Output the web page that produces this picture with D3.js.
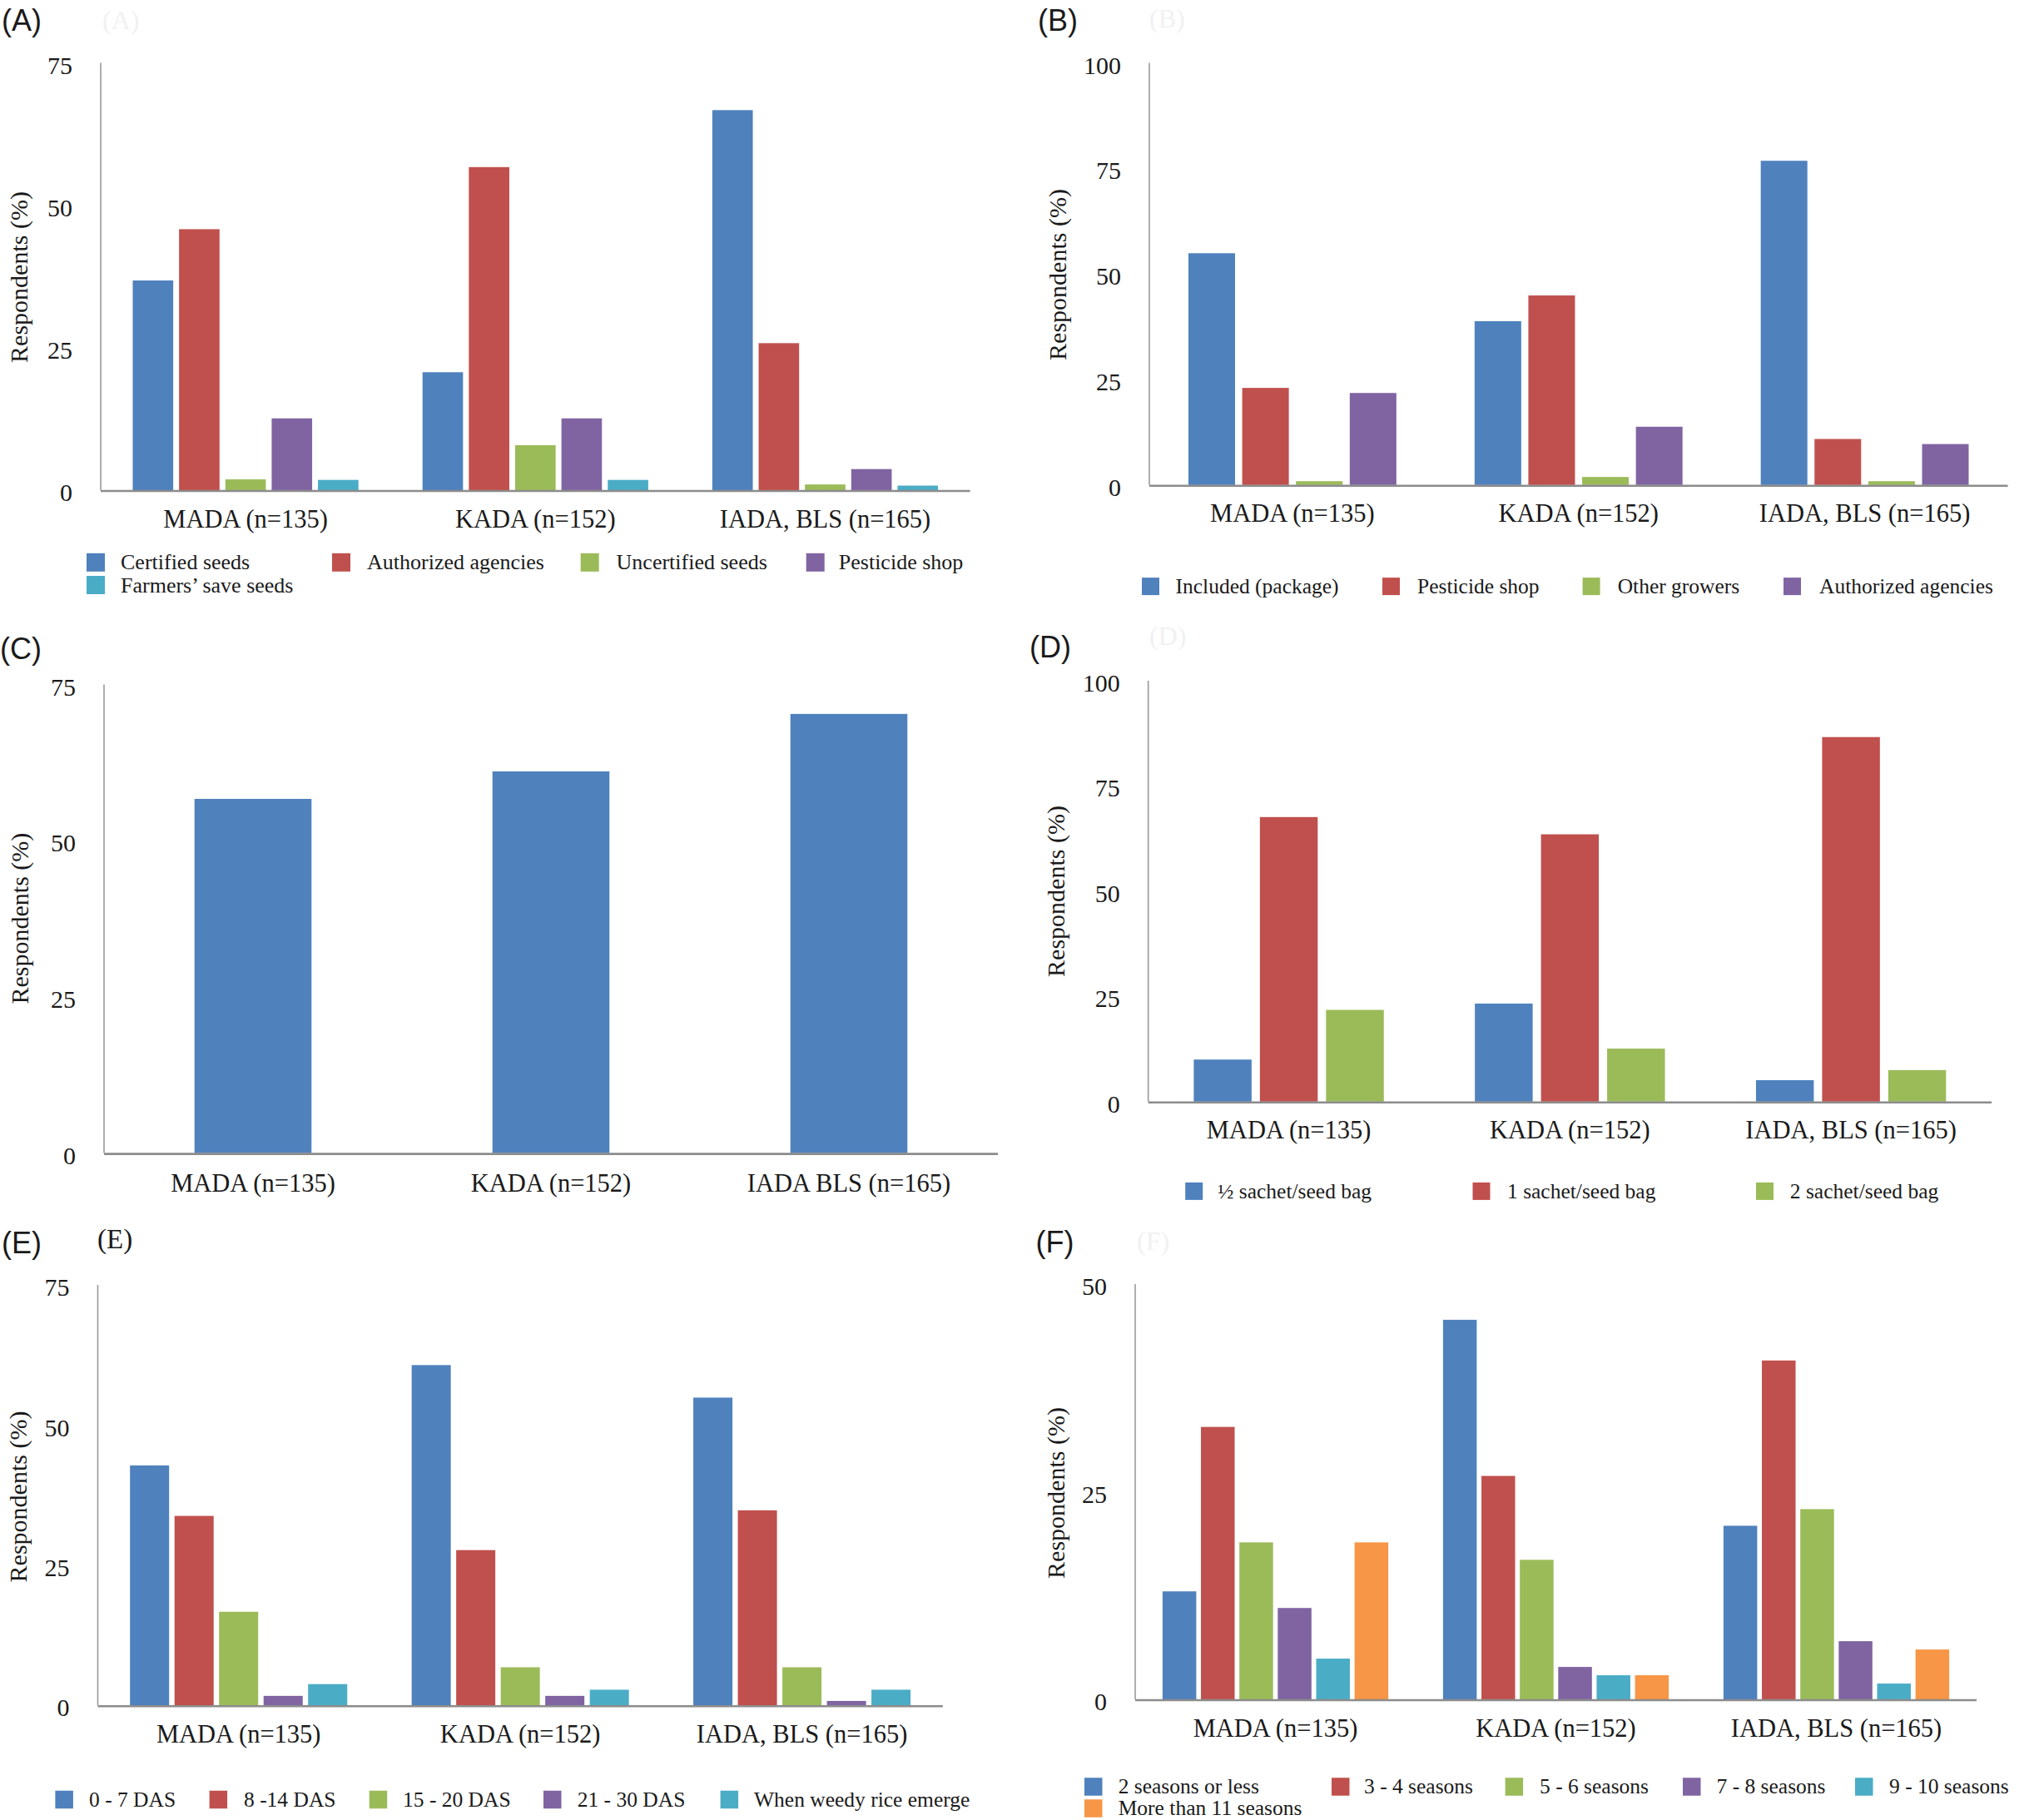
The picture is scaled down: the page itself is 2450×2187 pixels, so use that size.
<!DOCTYPE html>
<html><head><meta charset="utf-8">
<script src="https://cdn.jsdelivr.net/npm/d3@7"></script>
<style>body{margin:0;background:#fff}</style>
</head><body>
<svg id="chart" width="2450" height="2187" xmlns="http://www.w3.org/2000/svg"></svg>
<script>
// ---------------- DATA ----------------
const categories = ["MADA (n=135)", "KADA (n=152)", "IADA, BLS (n=165)"];
const categoriesC = ["MADA (n=135)", "KADA (n=152)", "IADA BLS (n=165)"];

const ticks75 = [0, 25, 50, 75];
const ticks100 = [0, 25, 50, 75, 100];
const ticks50 = [0, 25, 50];

// (A) seed source
const seriesA = ["Certified seeds", "Authorized agencies", "Uncertified seeds", "Pesticide shop", "Farmers\u2019 save seeds"];
const certifiedSeeds = [36.8, 20.7, 66.7];
const authorizedAgenciesA = [45.8, 56.7, 25.8];
const uncertifiedSeeds = [1.9, 7.9, 1.0];
const pesticideShopA = [12.6, 12.6, 3.7];
const farmersSaveSeeds = [1.8, 1.8, 0.8];

// (B) herbicide source
const seriesB = ["Included (package)", "Pesticide shop", "Other growers", "Authorized agencies"];
const includedPackage = [54.9, 38.8, 76.8];
const pesticideShopB = [23.0, 44.9, 10.9];
const otherGrowers = [0.9, 1.9, 0.9];
const authorizedAgenciesB = [21.8, 13.8, 9.7];

// (C)
const seriesC = ["Respondents"];
const respondentsC = [56.7, 61.1, 70.3];

// (D) dose
const seriesD = ["\u00bd sachet/seed bag", "1 sachet/seed bag", "2 sachet/seed bag"];
const halfSachet = [10.0, 23.3, 5.1];
const oneSachet = [67.6, 63.5, 86.6];
const twoSachet = [21.8, 12.6, 7.5];

// (E) timing
const seriesE = ["0 - 7 DAS", "8 -14 DAS", "15 - 20 DAS", "21 - 30 DAS", "When weedy rice emerge"];
const das0to7 = [42.8, 60.7, 54.9];
const das8to14 = [33.8, 27.7, 34.8];
const das15to20 = [16.7, 6.8, 6.8];
const das21to30 = [1.7, 1.7, 0.8];
const whenEmerge = [3.8, 2.8, 2.8];

// (F) seasons
const seriesF = ["2 seasons or less", "3 - 4 seasons", "5 - 6 seasons", "7 - 8 seasons", "9 - 10 seasons", "More than 11 seasons"];
const seasons2less = [13.0, 45.7, 20.9];
const seasons3to4 = [32.8, 26.9, 40.8];
const seasons5to6 = [18.9, 16.8, 22.9];
const seasons7to8 = [11.0, 3.9, 7.0];
const seasons9to10 = [4.9, 2.9, 1.9];
const seasonsMore11 = [18.9, 2.9, 6.0];

// ---------------- STYLE / LAYOUT ----------------
const C = {blue:"#4f81bd", red:"#c0504d", green:"#9bbb59", purple:"#8064a2", cyan:"#4bacc6", orange:"#f79646"};
const SERIF = "'Liberation Serif','Times New Roman',serif";
const SANS = "'Liberation Sans',Arial,sans-serif";

const panels = [
  {label:"(A)", lx:2, ly:37, ghost:{x:123, y:35},
   cats:categories, series:seriesA,
   values:[certifiedSeeds, authorizedAgenciesA, uncertifiedSeeds, pesticideShopA, farmersSaveSeeds],
   colors:[C.blue, C.red, C.green, C.purple, C.cyan],
   x0:121, x1:1165.6, yTop:75.5, yZero:589, max:75, ticks:ticks75, pad:38.5, gap:7,
   catY:634, titleX:22, titleY:333, sq:22, legendFont:26,
   legend:[{sx:104,tx:145,y:675.8},{sx:399,tx:441,y:675.8},{sx:697.7,tx:740.6,y:675.8},{sx:968.7,tx:1007.8,y:675.8},{sx:104,tx:145,y:703}]},
  {label:"(B)", lx:1247, ly:37, ghost:{x:1381, y:33},
   cats:categories, series:seriesB,
   values:[includedPackage, pesticideShopB, otherGrowers, authorizedAgenciesB],
   colors:[C.blue, C.red, C.green, C.purple],
   x0:1381, x1:2412.5, yTop:75.5, yZero:582.8, max:100, ticks:ticks100, pad:47, gap:8.6,
   catY:627, titleX:1270, titleY:330, sq:21, legendFont:25.5,
   legend:[{sx:1372,tx:1412.5,y:704.6},{sx:1661,tx:1703,y:704.6},{sx:1901.6,tx:1943.7,y:704.6},{sx:2143,tx:2186,y:704.6}]},
  {label:"(C)", lx:0, ly:792, ghost:null,
   cats:categoriesC, series:seriesC,
   values:[respondentsC],
   colors:[C.blue],
   x0:125, x1:1199, yTop:822.6, yZero:1385.6, max:75, ticks:ticks75, pad:108.7, gap:0,
   catY:1432, titleX:23.4, titleY:1103.6, sq:0, legendFont:0, legend:null},
  {label:"(D)", lx:1237, ly:790, ghost:{x:1381, y:775},
   cats:categories, series:seriesD,
   values:[halfSachet, oneSachet, twoSachet],
   colors:[C.blue, C.red, C.green],
   x0:1379.7, x1:2393, yTop:817.9, yZero:1323.8, max:100, ticks:ticks100, pad:54.7, gap:10,
   catY:1368, titleX:1268.5, titleY:1071, sq:21, legendFont:25.5,
   legend:[{sx:1424.2,tx:1463.3,y:1431.4},{sx:1769.5,tx:1811,y:1431.4},{sx:2110,tx:2150.8,y:1431.4}]},
  {label:"(E)", lx:2, ly:1506, ghost:null, serifLabel:{x:117, y:1500},
   cats:categories, series:seriesE,
   values:[das0to7, das8to14, das15to20, das21to30, whenEmerge],
   colors:[C.blue, C.red, C.green, C.purple, C.cyan],
   x0:117.5, x1:1132.8, yTop:1544, yZero:2049.3, max:75, ticks:ticks75, pad:38.7, gap:6.5,
   catY:2094, titleX:21, titleY:1798.5, sq:21.5, legendFont:25.5,
   legend:[{sx:66.4,tx:107,y:2162.5},{sx:251.6,tx:293,y:2162.5},{sx:443.7,tx:484,y:2162.5},{sx:653,tx:693.7,y:2162.5},{sx:865.6,tx:906,y:2162.5}]},
  {label:"(F)", lx:1244.5, ly:1505, ghost:{x:1366, y:1502},
   cats:categories, series:seriesF,
   values:[seasons2less, seasons3to4, seasons5to6, seasons7to8, seasons9to10, seasonsMore11],
   colors:[C.blue, C.red, C.green, C.purple, C.cyan, C.orange],
   x0:1364, x1:2375, yTop:1543, yZero:2042, max:50, ticks:ticks50, pad:32.9, gap:5.66,
   catY:2087, titleX:1268, titleY:1794, sq:21.5, legendFont:25.5,
   legend:[{sx:1303,tx:1343.7,y:2147},{sx:1600,tx:1639,y:2147},{sx:1808.6,tx:1850,y:2147},{sx:2022,tx:2062.5,y:2147},{sx:2229,tx:2270,y:2147},{sx:1303,tx:1343.7,y:2173}]}
];

// ---------------- DRAW ----------------
const svg = d3.select("#chart");
svg.append("rect").attr("width",2450).attr("height",2187).attr("fill","#fff");

panels.forEach(p => {
  const g = svg.append("g");
  const x = d3.scaleBand().domain(p.cats).range([p.x0, p.x1]).padding(0);
  const n = p.series.length;
  const bw = x.bandwidth();
  const w = (bw - 2*p.pad - (n-1)*p.gap) / n;
  const xi = d3.scaleBand().domain(d3.range(n)).range([p.pad, bw - p.pad])
      .paddingInner(p.gap/(w + p.gap)).paddingOuter(0);
  const y = d3.scaleLinear().domain([0, p.max]).range([p.yZero, p.yTop]);

  // panel labels
  if (p.ghost) {
    g.append("text").attr("x", p.ghost.x).attr("y", p.ghost.y)
      .attr("font-family", SERIF).attr("font-size", 32).attr("fill", "#f1f1f1").text(p.label);
  }
  g.append("text").attr("x", p.lx).attr("y", p.ly)
    .attr("font-family", SANS).attr("font-size", 36).attr("fill", "#1a1a1a").text(p.label);
  if (p.serifLabel) {
    g.append("text").attr("x", p.serifLabel.x).attr("y", p.serifLabel.y)
      .attr("font-family", SERIF).attr("font-size", 33).attr("fill", "#1a1a1a").text(p.label);
  }

  // bars
  p.series.forEach((s, si) => {
    g.append("g").selectAll("rect").data(p.values[si]).join("rect")
      .attr("x", (v, ci) => x(p.cats[ci]) + xi(si))
      .attr("width", xi.bandwidth())
      .attr("y", v => y(v))
      .attr("height", v => y(0) - y(v))
      .attr("fill", p.colors[si]);
  });

  // y axis ticks (labels only)
  const ya = g.append("g").attr("transform", `translate(${p.x0},0)`)
    .call(d3.axisLeft(y).tickValues(p.ticks).tickSize(0).tickPadding(34).tickFormat(d3.format("d")));
  ya.select(".domain").remove();
  ya.selectAll("text").attr("font-family", SERIF).attr("font-size", 30).attr("fill", "#1a1a1a").attr("dy", "0.42em");

  // axis lines
  g.append("line").attr("x1", p.x0).attr("x2", p.x0).attr("y1", y(p.max)).attr("y2", y(0))
    .attr("stroke", "#9a9a9a").attr("stroke-width", 1.6);
  g.append("line").attr("x1", p.x0).attr("x2", p.x1).attr("y1", y(0) + 1).attr("y2", y(0) + 1)
    .attr("stroke", "#8c8c8c").attr("stroke-width", 2.6);

  // category labels
  g.append("g").selectAll("text").data(p.cats).join("text")
    .attr("x", c => x(c) + bw/2).attr("y", p.catY)
    .attr("text-anchor", "middle").attr("font-family", SERIF).attr("font-size", 30.5)
    .attr("fill", "#1a1a1a").text(c => c);

  // y title
  g.append("text").attr("transform", `translate(${p.titleX},${p.titleY}) rotate(-90)`)
    .attr("text-anchor", "middle").attr("dominant-baseline", "central")
    .attr("font-family", SERIF).attr("font-size", 30).attr("fill", "#1a1a1a")
    .text("Respondents (%)");

  // legend
  if (p.legend) {
    const lg = g.append("g");
    p.series.forEach((s, si) => {
      const L = p.legend[si];
      lg.append("rect").attr("x", L.sx).attr("y", L.y - p.sq/2).attr("width", p.sq).attr("height", p.sq)
        .attr("fill", p.colors[si]);
      lg.append("text").attr("x", L.tx).attr("y", L.y).attr("dy", "0.33em")
        .attr("font-family", SERIF).attr("font-size", p.legendFont).attr("fill", "#1a1a1a").text(s);
    });
  }
});
</script>
</body></html>
